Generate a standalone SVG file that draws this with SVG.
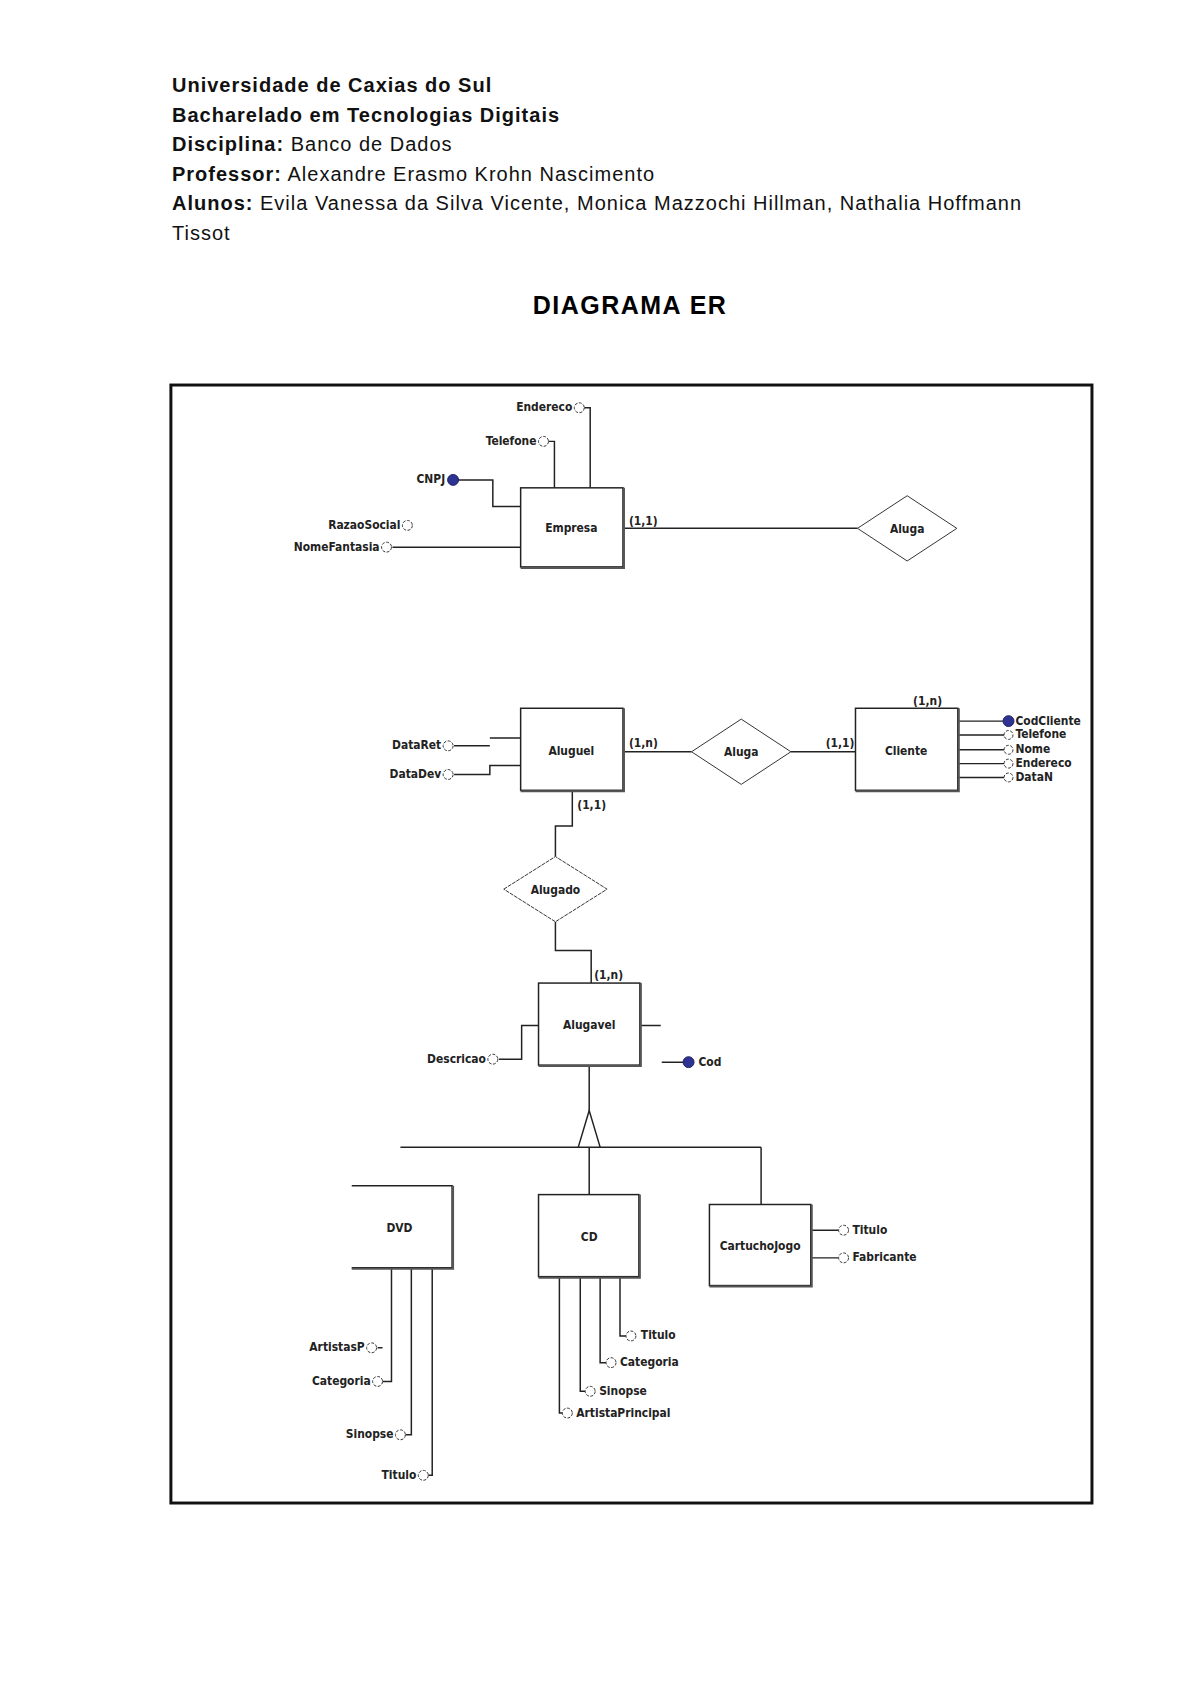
<svg xmlns="http://www.w3.org/2000/svg" width="1200" height="1698" viewBox="0 0 1200 1698">
<style>
.h{font-family:"Liberation Sans",Arial,sans-serif;font-size:20px;letter-spacing:1px;fill:#111}
.b{font-weight:bold}
.t{font-family:"DejaVu Sans Condensed","Liberation Sans Narrow","Liberation Sans",sans-serif;font-size:12px;font-weight:bold;fill:#222}
.c{text-anchor:middle;dominant-baseline:middle}
.e{text-anchor:end;dominant-baseline:middle}
.s{dominant-baseline:middle}
.box{fill:#fff;stroke:#222;stroke-width:1.5}
.sh{stroke:#555;stroke-width:2;fill:none}
.ln{fill:none;stroke:#222;stroke-width:1.5}
.oa{fill:#fff;stroke:#333;stroke-width:1;stroke-dasharray:3 1.5}
.ka{fill:#2e3392;stroke:#1b1f66;stroke-width:1}
</style>
<rect width="1200" height="1698" fill="#fff"/>
<g id="header">
<text class="h b" x="172" y="92">Universidade de Caxias do Sul</text>
<text class="h b" x="172" y="122">Bacharelado em Tecnologias Digitais</text>
<text class="h" x="172" y="151"><tspan class="b">Disciplina:</tspan> Banco de Dados</text>
<text class="h" x="172" y="181"><tspan class="b">Professor:</tspan> Alexandre Erasmo Krohn Nascimento</text>
<text class="h" x="172" y="210"><tspan class="b">Alunos:</tspan> Evila Vanessa da Silva Vicente, Monica Mazzochi Hillman, Nathalia Hoffmann</text>
<text class="h" x="172" y="240">Tissot</text>
<text x="630" y="314" text-anchor="middle" font-family="Liberation Sans,Arial,sans-serif" font-size="25" letter-spacing="1.5" font-weight="bold">DIAGRAMA ER</text>
</g>
<g transform="translate(0,0.5) scale(0.9936,0.9885)">
<rect id="frame" x="172" y="389" width="927" height="1131" fill="none" stroke="#111" stroke-width="3"/>
<g id="connectors">
<path class="ln" d="M588 412H594V493M552 446H558V493M461 485H496V512H524M395 553H524"/>
<path class="ln" d="M627 534H863"/>
<path class="ln" d="M493 746H524M457 754H493M457 783H493V774H524"/>
<path class="ln" d="M627 760H696M796 760H861"/>
<path class="ln" d="M964 729H1010M964 743H1012M964 758H1012M964 772H1012M964 786H1012"/>
<path class="ln" d="M576 799V835H559V866M559 932V961H595V994"/>
<path class="ln" d="M644 1037H665M502 1071H525V1037H542M666 1074H688"/>
<path class="ln" d="M593 1077V1123M403 1160H766M593 1160V1208M766 1160V1218"/>
<path class="ln" d="M380 1363H385M385 1397H394V1282M408 1451H414V1282M431 1492H435V1282"/>
<path class="ln" d="M624 1291V1351H630M604 1291V1378H610M584 1291V1407H589M563 1291V1429H566"/>
<path class="ln" d="M816 1244H844M816 1272H844"/>
<polygon points="593,1123 582,1160 604,1160" fill="#fff" stroke="#222" stroke-width="1.5"/>
</g>
<g id="empresa"><rect class="box" x="524" y="493" width="103" height="80"/><path class="sh" d="M524 574H628V493"/><text class="t c" x="575" y="534">Empresa</text></g>
<g id="a-endereco"><circle class="oa" cx="583" cy="412" r="5"/><text class="t e" x="576" y="412">Endereco</text></g>
<g id="a-telefone"><circle class="oa" cx="547" cy="446" r="5"/><text class="t e" x="540" y="446">Telefone</text></g>
<g id="a-cnpj"><circle class="ka" cx="456" cy="485" r="5.5"/><text class="t e" x="448" y="485">CNPJ</text></g>
<g id="a-razao"><circle class="oa" cx="410" cy="531" r="5"/><text class="t e" x="403" y="531">RazaoSocial</text></g>
<g id="a-nome"><circle class="oa" cx="389" cy="553" r="5"/><text class="t e" x="382" y="553">NomeFantasia</text></g>
<text class="t" x="633" y="531">(1,1)</text>
<g id="aluga1"><polygon points="863,534 913,501 963,534 913,567" fill="#fff" stroke="#333" stroke-width="1"/><text class="t c" x="913" y="535">Aluga</text></g>
<g id="aluguel"><rect class="box" x="524" y="716" width="103" height="83"/><path class="sh" d="M524 800H628V716"/><text class="t c" x="575" y="760">Aluguel</text></g>
<g id="a-dataret"><circle class="oa" cx="451" cy="754" r="5"/><text class="t e" x="444" y="754">DataRet</text></g>
<g id="a-datadev"><circle class="oa" cx="451" cy="783" r="5"/><text class="t e" x="444" y="783">DataDev</text></g>
<text class="t" x="633" y="755">(1,n)</text>
<g id="aluga2"><polygon points="696,760 746,727 796,760 746,793" fill="#fff" stroke="#333" stroke-width="1"/><text class="t c" x="746" y="761">Aluga</text></g>
<text class="t" x="831" y="755">(1,1)</text>
<g id="cliente"><rect class="box" x="861" y="716" width="103" height="83"/><path class="sh" d="M861 800H965V716"/><text class="t c" x="912" y="760">Cliente</text></g>
<text class="t" x="919" y="713">(1,n)</text>
<g id="a-codcliente"><circle class="ka" cx="1015" cy="729" r="5.5"/><text class="t s" x="1022" y="729">CodCliente</text></g>
<g id="a-tel2"><circle class="oa" cx="1015" cy="743" r="4.5"/><text class="t s" x="1022" y="743">Telefone</text></g>
<g id="a-nome2"><circle class="oa" cx="1015" cy="758" r="4.5"/><text class="t s" x="1022" y="758">Nome</text></g>
<g id="a-end2"><circle class="oa" cx="1015" cy="772" r="4.5"/><text class="t s" x="1022" y="772">Endereco</text></g>
<g id="a-datan"><circle class="oa" cx="1015" cy="786" r="4.5"/><text class="t s" x="1022" y="786">DataN</text></g>
<text class="t" x="581" y="818">(1,1)</text>
<g id="alugado"><polygon points="507,899 559,866 611,899 559,932" fill="#fff" stroke="#333" stroke-width="1" stroke-dasharray="4 1"/><text class="t c" x="559" y="900">Alugado</text></g>
<text class="t" x="598" y="990">(1,n)</text>
<g id="alugavel"><rect class="box" x="542" y="994" width="102" height="83"/><path class="sh" d="M542 1078H645V994"/><text class="t c" x="593" y="1037">Alugavel</text></g>
<g id="a-descricao"><circle class="oa" cx="496" cy="1071" r="5"/><text class="t e" x="489" y="1071">Descricao</text></g>
<g id="a-cod"><circle class="ka" cx="693" cy="1074" r="5.5"/><text class="t s" x="703" y="1074">Cod</text></g>
<g id="dvd"><path class="box" d="M354 1199H455V1282H354"/><path class="sh" d="M354 1283H456V1199"/><text class="t c" x="402" y="1242">DVD</text></g>
<g id="a-artistasp"><circle class="oa" cx="374" cy="1363" r="5"/><text class="t e" x="367" y="1363">ArtistasP</text></g>
<g id="a-categoria1"><circle class="oa" cx="380" cy="1397" r="5"/><text class="t e" x="373" y="1397">Categoria</text></g>
<g id="a-sinopse1"><circle class="oa" cx="403" cy="1451" r="5"/><text class="t e" x="396" y="1451">Sinopse</text></g>
<g id="a-titulo1"><circle class="oa" cx="426" cy="1492" r="5"/><text class="t e" x="419" y="1492">Titulo</text></g>
<g id="cd"><rect class="box" x="542" y="1208" width="101" height="83"/><path class="sh" d="M542 1292H644V1208"/><text class="t c" x="593" y="1251">CD</text></g>
<g id="a-titulo2"><circle class="oa" cx="635" cy="1351" r="5"/><text class="t s" x="645" y="1351">Titulo</text></g>
<g id="a-categoria2"><circle class="oa" cx="615" cy="1378" r="5"/><text class="t s" x="624" y="1378">Categoria</text></g>
<g id="a-sinopse2"><circle class="oa" cx="594" cy="1407" r="5"/><text class="t s" x="603" y="1407">Sinopse</text></g>
<g id="a-artistaprincipal"><circle class="oa" cx="571" cy="1429" r="5"/><text class="t s" x="580" y="1429">ArtistaPrincipal</text></g>
<g id="cartuchojogo"><rect class="box" x="714" y="1218" width="102" height="82"/><path class="sh" d="M714 1301H817V1218"/><text class="t c" x="765" y="1261" font-weight="normal">CartuchoJogo</text></g>
<g id="a-titulo3"><circle class="oa" cx="849" cy="1244" r="5"/><text class="t s" x="858" y="1244">Titulo</text></g>
<g id="a-fabricante"><circle class="oa" cx="849" cy="1272" r="5"/><text class="t s" x="858" y="1272">Fabricante</text></g>
</g>
</svg>
